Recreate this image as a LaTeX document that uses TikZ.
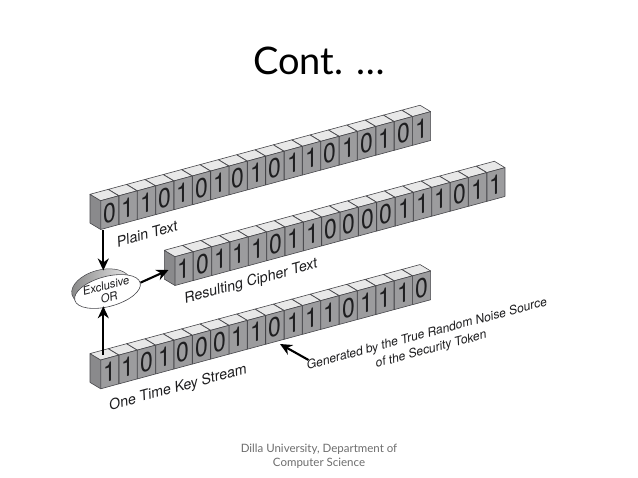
\documentclass[tikz,border=0pt]{standalone}
\usepackage{fontspec}
\setmainfont{TeX Gyre Heros}
\newfontfamily\titlefont{Lato}
\usetikzlibrary{shapes.geometric,arrows.meta}
\definecolor{cubefront}{HTML}{9C9C9E}
\definecolor{cubeleft}{HTML}{8A8A8C}
\definecolor{cubetop}{HTML}{E8E8E8}
\definecolor{cubeline}{HTML}{46464A}
\definecolor{ink}{HTML}{1E1E20}
\definecolor{foot}{HTML}{6E6E6E}
\tikzset{
  cubeface/.style={draw=cubeline,line width=0.6pt,line join=round},
  digit/.style={inner sep=0pt,text=ink,font=\fontsize{27}{27}\selectfont,xscale=0.85,yslant=0.27,transform shape},
  caption/.style={inner sep=0pt,text=ink,rotate=15,align=center,font=\fontsize{14.5}{17}\selectfont\itshape},
  flow/.style={-{Stealth[length=12pt,width=11pt]},line width=2.1pt,black},
}
\newcommand{\cuberow}[4]{% name, x, y of front top-left corner of first cube, digits
  \def\digs{{#4}}
  \foreach \k in {17,16,...,0}{
    \pgfmathtruncatemacro\d{\digs[\k]}
    \pgfmathsetmacro\fx{#2+\k*18.35}
    \pgfmathsetmacro\fy{#3-\k*4.95}
    \begin{scope}[shift={(\fx,\fy)}]
      \fill[cubeleft] (0,0) -- (-10.7,-6.4) -- (-10.7,22.4) -- (0,28.8) -- cycle;
      \draw[cubeface] (0,0) -- (-10.7,-6.4) -- (-10.7,22.4) -- (0,28.8);
      \filldraw[cubeface,fill=cubetop] (0,0) -- (-10.7,-6.4) -- (7.4,-11.3) -- (18,-4.9) -- cycle;
      \filldraw[cubeface,fill=cubefront] (0,0) -- (18,-4.9) -- (18,23.9) -- (0,28.8) -- cycle;
      \node[digit] (#1-\k) at (9.2,12) {\d};
    \end{scope}
  }
}
\begin{document}
\begin{tikzpicture}[x=1pt,y=-1pt]
\useasboundingbox (0,0) rectangle (638,478);
\fill[white] (0,0) rectangle (638,478);
\node[inner sep=0pt,font=\titlefont\fontsize{38}{40}\selectfont] (title) at (319,61) {Cont. …};
\cuberow{pt}{100.7}{200.7}{0,1,1,0,1,0,1,0,1,0,1,1,0,1,0,1,0,1}
\cuberow{ct}{175}{256.7}{1,0,1,1,1,0,1,1,0,0,0,0,1,1,1,0,1,1}
\cuberow{ks}{100.7}{360}{1,1,0,1,0,0,0,1,1,0,1,1,1,0,1,1,1,0}
\node[caption] (ptl) at (147,234) {Plain Text};
\node[caption] (ctl) at (251,282) {Resulting Cipher Text};
\node[caption] (ksl) at (178,388) {One Time Key Stream};
\node[caption,font=\fontsize{12.3}{16}\selectfont\itshape] (gen) at (429,342) {Generated by the True Random Noise Source\\of the Security Token};
\node[draw=cubeline,line width=0.5pt,ellipse,rotate=15,minimum width=60pt,minimum height=34pt,inner sep=0pt,left color=gray!95,right color=gray!15] (xorback) at (101,287) {};
\node[draw=cubeline,line width=0.6pt,ellipse,rotate=15,fill=white,minimum width=58pt,minimum height=30pt,inner sep=0pt,align=center,text=ink,font=\fontsize{11.5}{12}\selectfont\itshape] (xor) at (107.5,291.5) {Exclusive\\OR};
\coordinate (ptout) at (103.3,230);
\coordinate (ptin) at (103.3,270.5);
\coordinate (ksout) at (103.3,355);
\coordinate (ctin) at (168.5,270);
\coordinate (ksin) at (280,344);
\coordinate (genout) at (308.5,360);
\draw[flow] (ptout) -- (ptin);
\draw[flow] (ksout) -- (ksout |- xor.south);
\draw[flow] (xor.east) -- (ctin);
\draw[flow] (genout) -- (ksin);
\node[inner sep=0pt,align=center,text=foot,font=\titlefont\fontsize{11.5}{14}\selectfont] (footer) at (319,456) {Dilla University, Department of\\Computer Science};
\end{tikzpicture}
\end{document}
